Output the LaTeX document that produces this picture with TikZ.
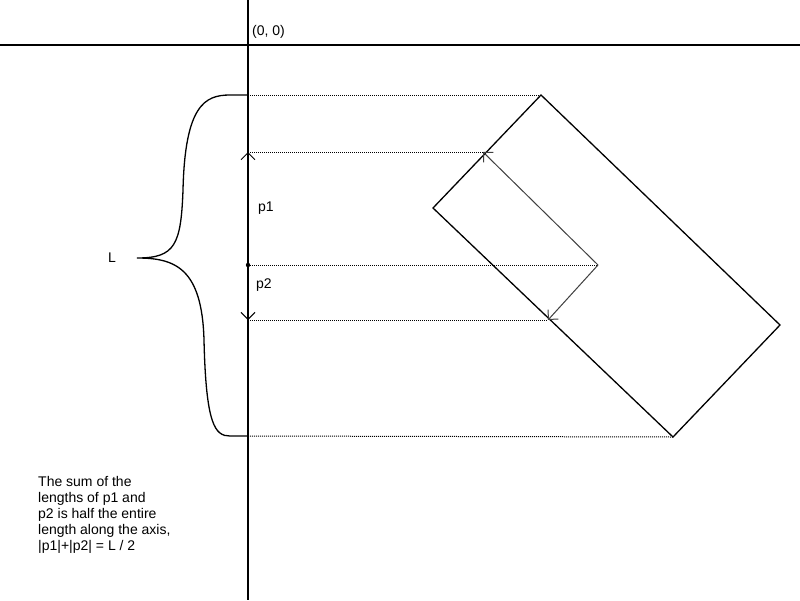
\documentclass[tikz,border=0pt]{standalone}
\usepackage{fontspec}
\setmainfont{Liberation Sans}
\usetikzlibrary{arrows.meta}
\begin{document}
\begin{tikzpicture}[x=1pt,y=-1pt,
  ax/.style={line width=1.3pt},
  dots/.style={densely dotted,line width=1pt},
  arr/.style={-{Straight Barb[length=7pt,width=14pt]},line width=1pt},
  lbl/.style={font=\fontsize{14}{16}\selectfont,inner sep=0pt}]
\useasboundingbox[fill=white] (0,0) rectangle (800,600);
\draw[ax] (0,45) -- (800,45);
\draw[ax] (248,0) -- (248,600);
\node[lbl,anchor=west] (o) at (252,32) {(0, 0)};
\coordinate (r1) at (541,95); \coordinate (r2) at (780,325);
\coordinate (r3) at (673,437); \coordinate (r4) at (433,208);
\draw[line width=1.3pt] (r1)--(r2)--(r3)--(r4)--cycle;
\coordinate (c) at (598,265); \coordinate (a1) at (483,152); \coordinate (a2) at (548,320);
\coordinate (y1) at (248,95); \coordinate (y2) at (248,152); \coordinate (y3) at (248,265);
\coordinate (y4) at (248,320); \coordinate (y5) at (248,436);
\draw[dots] (y1)--(r1); \draw[dots] (y2)--(a1); \draw[dots] (y3)--(c);
\draw[dots] (y4)--(a2); \draw[dots] (y5)--(r3);
\draw[arr,draw=black!75] (c)--(a1);
\draw[arr,draw=black!75] (c)--(a2);
\draw[arr] (y3)--(y2);
\draw[arr] (y3)--(y4);
\fill (y3) circle (2.2);
\node[lbl,anchor=west] (p1) at (258,208) {p1};
\node[lbl,anchor=west] (p2) at (256,285) {p2};
\draw[line width=1.3pt] (y1) -- (230,95) .. controls (205,95) and (185,105) .. (183,190)
  .. controls (181,245) and (175,258) .. (137,258)
  .. controls (175,258) and (202,268) .. (204,340)
  .. controls (206,425) and (215,436) .. (230,436) -- (y5);
\node[lbl] (L) at (112,258) {L};
\node[lbl,anchor=north west,align=left] (t) at (38,476) {The sum of the\\lengths of p1 and\\p2 is half the entire\\length along the axis,\\|p1|+|p2| = L / 2};
\end{tikzpicture}
\end{document}
